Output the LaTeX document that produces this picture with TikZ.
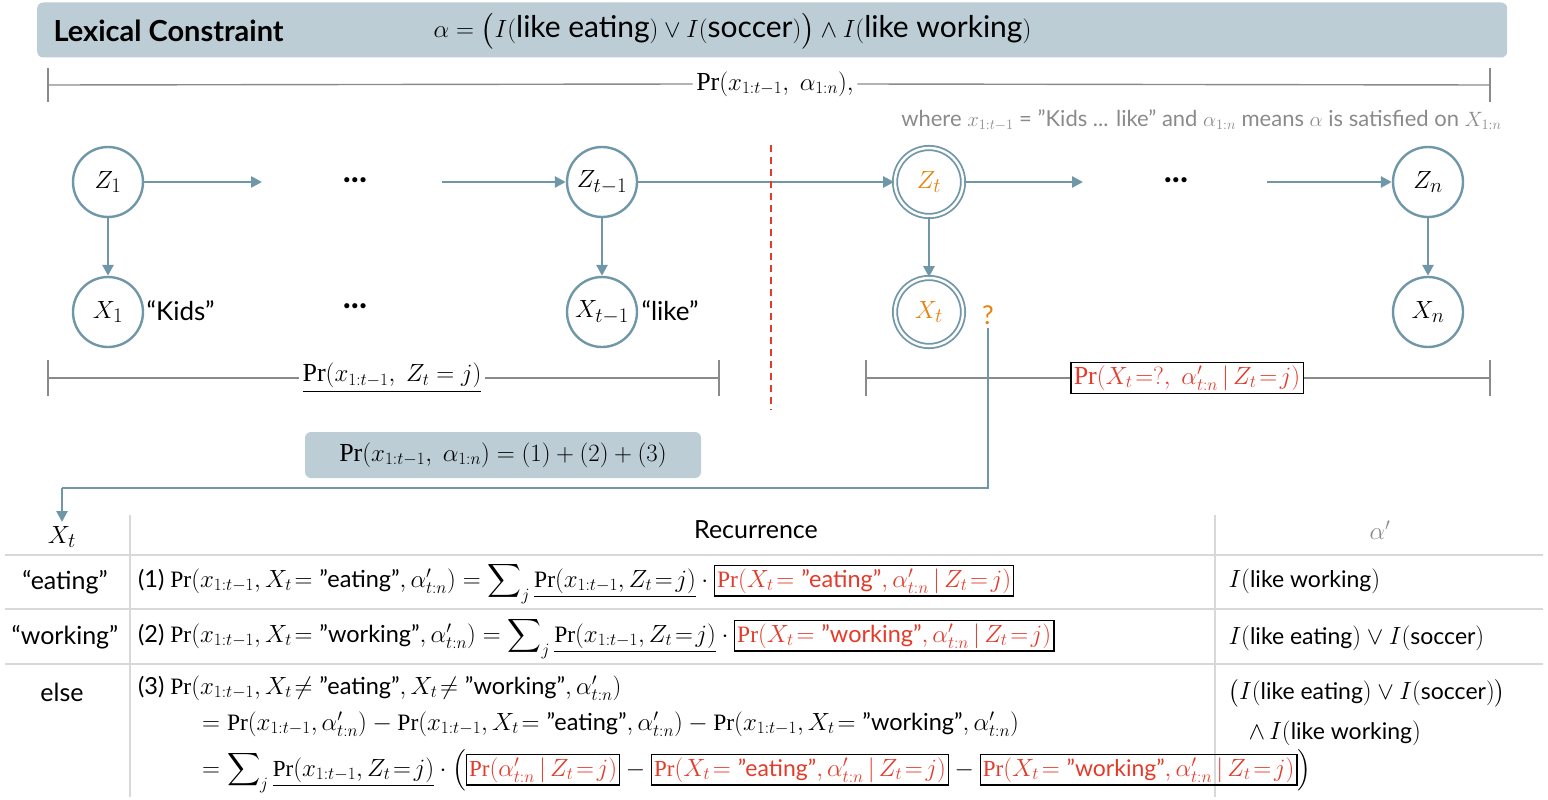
\documentclass[tikz,border=0pt]{standalone}
\usepackage{amsmath,amssymb}
\usepackage{fontspec}
\setmainfont{Lato}
\newfontfamily\serif{Liberation Serif}
\usetikzlibrary{arrows.meta}
\definecolor{nb}{HTML}{6F97A8}
\definecolor{bannerc}{HTML}{BCCDD6}
\definecolor{og}{HTML}{E8820C}
\definecolor{rd}{HTML}{E43A2A}
\definecolor{gl}{HTML}{8A8A8A}
\definecolor{tl}{HTML}{D8D8D8}
\newcommand{\Prb}{\text{\serif Pr}}
\newcommand{\rbox}[1]{{\setlength{\fboxsep}{2pt}\setlength{\fboxrule}{1.3pt}\fbox{\color{rd}$#1$}}}
\newcommand{\q}[1]{\text{"#1"}}
\newcommand{\dsum}{\displaystyle\sum\nolimits_j}
\begin{document}
\begin{tikzpicture}[x=1pt,y=-1pt,
  nd/.style={circle,draw=nb,line width=2.4pt,minimum size=70pt,inner sep=0pt,font=\fontsize{28}{32}\selectfont},
  dnd/.style={nd,double=white,double distance=2.5pt,line width=1.8pt,minimum size=68pt,text=og},
  ar/.style={draw=nb,line width=2.6pt,-{Triangle[length=11pt,width=11pt]}},
  br/.style={draw=gl,line width=1.4pt},
  tx/.style={font=\fontsize{26}{30}\selectfont},
  tb/.style={font=\fontsize{23.5}{27}\selectfont},
  dots/.style={font=\fontsize{34}{34}\selectfont\bfseries},
  tline/.style={draw=tl,line width=1.5pt}]
\useasboundingbox (0,0) rectangle (1548,800);
% banner
\node[fill=bannerc,rounded corners=6pt,minimum width=1470pt,minimum height=55pt,anchor=west] (ban) at (37,30) {};
\node[anchor=west,font=\fontsize{29}{32}\selectfont\bfseries] (lc) at (50,31) {Lexical Constraint};
\node[anchor=west,font=\fontsize{30}{34}\selectfont] (fm) at (430,31) {$\alpha=\bigl(I(\text{like eating})\vee I(\text{soccer})\bigr)\wedge I(\text{like working})$};
% top bracket
\node[tx] (tlab) at (775,84) {$\Prb(x_{1:t-1},\ \alpha_{1:n}),$};
\coordinate (tb1) at (48,85); \coordinate (tb2) at (1490,85);
\draw[br] (tb1) -- (tlab.west); \draw[br] (tlab.east) -- (tb2);
\draw[br] (48,68) -- (48,102); \draw[br] (1490,68) -- (1490,102);
\node[anchor=east,text=gl,font=\fontsize{22}{26}\selectfont] (where) at (1505,120) {where $x_{1:t-1}$ = "Kids ... like" and $\alpha_{1:n}$ means $\alpha$ is satisfied on $X_{1:n}$};
% nodes
\node[nd] (z1) at (108,182) {$Z_1$};
\node[nd] (zt1) at (602,182) {$Z_{t-1}$};
\node[dnd] (zt) at (929,182) {$Z_t$};
\node[nd] (zn) at (1428,182) {$Z_n$};
\node[nd] (x1) at (108,312) {$X_1$};
\node[nd] (xt1) at (602,312) {$X_{t-1}$};
\node[dnd] (xt) at (929,312) {$X_t$};
\node[nd] (xn) at (1428,312) {$X_n$};
\node[dots] (d1) at (355,180) {...};
\node[dots] (d2) at (1176,180) {...};
\node[dots] (d3) at (355,306) {...};
\coordinate (a1e) at (262,182); \coordinate (a2s) at (442,182);
\coordinate (a3e) at (1083,182); \coordinate (a4s) at (1267,182);
\draw[ar] (z1) -- (a1e);
\draw[ar] (a2s) -- (zt1);
\draw[ar] (zt1) -- (zt);
\draw[ar] (zt) -- (a3e);
\draw[ar] (a4s) -- (zn);
\foreach \a/\b in {z1/x1,zt1/xt1,zt/xt,zn/xn} \draw[ar] (\a) -- (\b);
\node[anchor=west,font=\fontsize{26}{30}\selectfont] (kids) at (143,311) {“Kids”};
\node[anchor=west,font=\fontsize{26}{30}\selectfont] (like) at (638,311) {“like”};
\node[text=og,font=\fontsize{26}{30}\selectfont] (qm) at (988,315) {?};
\draw[rd,line width=2.4pt,dash pattern=on 7pt off 5pt] (771,145) -- (771,410);
% lower brackets
\node[tx] (llab) at (392,378) {$\underline{\Prb(x_{1:t-1},\ Z_t=j)}$};
\draw[br] (48,378) -- (llab.west); \draw[br] (llab.east) -- (719,378);
\draw[br] (48,360) -- (48,396); \draw[br] (719,360) -- (719,396);
\node[tx,draw=black,line width=1.5pt,text=rd,inner sep=3pt] (rlab) at (1187,378) {$\Prb(X_t\!=?,\ \alpha'_{t:n}\,|\,Z_t\!=\!j)$};
\draw[br] (866,378) -- (rlab.west); \draw[br] (rlab.east) -- (1490,378);
\draw[br] (866,360) -- (866,396); \draw[br] (1490,360) -- (1490,396);
\node[tx,fill=bannerc,rounded corners=6pt,minimum width=396pt,minimum height=46pt] (sum) at (503,455) {$\Prb(x_{1:t-1},\ \alpha_{1:n})=(1)+(2)+(3)$};
% connector
\coordinate (c1) at (988,488); \coordinate (c2) at (62,488); \coordinate (c3) at (62,522);
\draw[nb,line width=2.6pt] (qm.south) -- (c1) -- (c2);
\draw[ar] (c2) -- (c3);
% table
\draw[tline] (130,515) -- (130,797);
\draw[tline] (1215,515) -- (1215,797);
\foreach \y in {555,609,664} \draw[tline] (5,\y) -- (1543,\y);
\node[font=\fontsize{28}{30}\selectfont] (hx) at (62,537) {$X_t$};
\node[font=\fontsize{25}{28}\selectfont] (hr) at (756,530) {Recurrence};
\node[font=\fontsize{25}{28}\selectfont,text=gl] (ha) at (1380,530) {$\alpha'$};
\node[font=\fontsize{25}{28}\selectfont] (r1) at (65,582) {“eating”};
\node[font=\fontsize{25}{28}\selectfont] (r2) at (65,637) {“working”};
\node[font=\fontsize{25}{28}\selectfont] (r3) at (62,692) {else};
\node[tb,anchor=west,inner sep=0pt] (e1) at (138,583) {(1) $\Prb(x_{1:t-1},X_t\!=\q{eating},\alpha'_{t:n})=\dsum\underline{\Prb(x_{1:t-1},Z_t\!=\!j)}\cdot\rbox{\Prb(X_t\!=\q{eating},\alpha'_{t:n}\,|\,Z_t\!=\!j)}$};
\node[tb,anchor=west,inner sep=0pt] (e2) at (138,638) {(2) $\Prb(x_{1:t-1},X_t\!=\q{working},\alpha'_{t:n})=\dsum\underline{\Prb(x_{1:t-1},Z_t\!=\!j)}\cdot\rbox{\Prb(X_t\!=\q{working},\alpha'_{t:n}\,|\,Z_t\!=\!j)}$};
\node[tb,anchor=west,inner sep=0pt] (e3) at (138,688) {(3) $\Prb(x_{1:t-1},X_t\!\neq\q{eating},X_t\!\neq\q{working},\alpha'_{t:n})$};
\node[tb,anchor=west,inner sep=0pt] (e4) at (202,724) {$=\Prb(x_{1:t-1},\alpha'_{t:n})-\Prb(x_{1:t-1},X_t\!=\q{eating},\alpha'_{t:n})-\Prb(x_{1:t-1},X_t\!=\q{working},\alpha'_{t:n})$};
\node[font=\fontsize{23}{27}\selectfont,anchor=west,inner sep=0pt] (e5) at (202,770) {$=\dsum\underline{\Prb(x_{1:t-1},Z_t\!=\!j)}\cdot\Bigl(\rbox{\Prb(\alpha'_{t:n}\,|\,Z_t\!=\!j)}-\rbox{\Prb(X_t\!=\q{eating},\alpha'_{t:n}\,|\,Z_t\!=\!j)}-\rbox{\Prb(X_t\!=\q{working},\alpha'_{t:n}\,|\,Z_t\!=\!j)}\Bigr)$};
\node[font=\fontsize{23}{27}\selectfont,anchor=west] (a1) at (1225,581) {$I(\text{like working})$};
\node[font=\fontsize{23}{27}\selectfont,anchor=west] (a2) at (1225,638) {$I(\text{like eating})\vee I(\text{soccer})$};
\node[font=\fontsize{23}{27}\selectfont,anchor=west] (a3) at (1225,693) {$\bigl(I(\text{like eating})\vee I(\text{soccer})\bigr)$};
\node[font=\fontsize{23}{27}\selectfont,anchor=west] (a4) at (1245,733) {$\wedge\, I(\text{like working})$};
\end{tikzpicture}
\end{document}
